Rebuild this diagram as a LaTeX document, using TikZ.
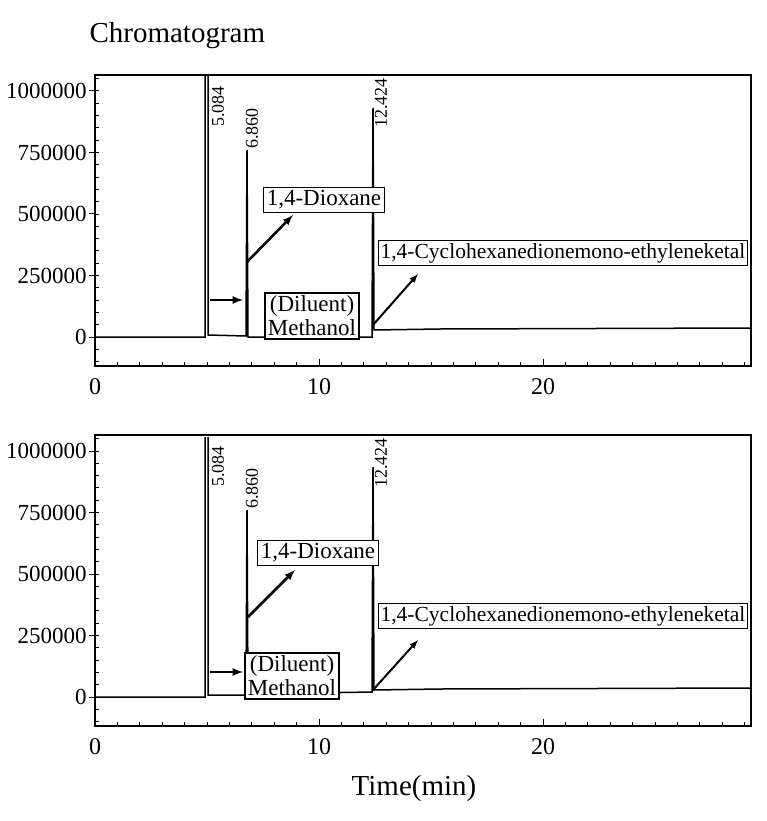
\documentclass[tikz,border=0pt]{standalone}
\usepackage{fontspec}
\setmainfont{Liberation Serif}
\usetikzlibrary{positioning}
\tikzset{
  box/.style={draw, line width=1.2pt, fill=white, inner sep=3pt, font=\fontsize{23}{23}\selectfont, align=center},
  lbl/.style={rotate=90, anchor=east, inner sep=1pt, font=\fontsize{18}{18}\selectfont},
  arr/.style={-latex, line width=2.5pt},
}
% one frame with ticks, #1 = y of the zero line
\newcommand\chromframe[1]{
  \draw[line width=1.2pt] (95,#1-262) rectangle (751,#1+29);
  \foreach \t in {1,...,29}
    \draw[line width=1pt] (95+22.4*\t,#1+29) -- ++(0,-4);
  \foreach \t in {0,10,20}
    \draw[line width=1pt] (95+22.4*\t,#1+29) -- ++(0,-7) (95+22.4*\t,#1+50) node {\fontsize{24}{24}\selectfont\t};
  \foreach \v in {-2,...,21}
    \draw[line width=1pt] (95,#1-12.3*\v) -- ++(4,0);
  \foreach \v/\txt in {0/0,250/250000,500/500000,750/750000,1000/1000000}
    \draw[line width=1pt] (95,#1-0.246*\v) -- ++(-6,0) node[left, inner sep=2pt] {\fontsize{23}{23}\selectfont\txt};
}
\begin{document}
\begin{tikzpicture}[x=1pt, y=-1pt]
  \useasboundingbox (0,0) rectangle (766,821);
  \node[anchor=west, font=\fontsize{29}{29}\selectfont] (title) at (86,36) {Chromatogram};

  % top chromatogram
  \chromframe{337}
  \draw[line width=1.5pt] (95,337) -- (205,337) -- (205,75) (208,75) -- (208,335) -- (246,336)
    -- (247,150) -- (248,337) -- (372,337) -- (373,108) -- (374,330) -- (440,329) -- (751,328);
  \node[lbl] (p1a) at (218,85) {5.084};
  \node[lbl] (p2a) at (252,107) {6.860};
  \node[lbl] (p3a) at (381,77) {12.424};
  \node[box] (dioxa) at (324,200) {1,4-Dioxane};
  \node[box] (metha) at (312,316) {(Diluent)\\[1pt]Methanol};
  \node[box, anchor=west, inner xsep=2pt, font=\fontsize{21.5}{22}\selectfont] (cycla) at (378,253) {1,4-Cyclohexanedionemono-ethyleneketal};
  \coordinate (sda) at (247,262);
  \coordinate (sma) at (210,300);
  \coordinate (sca) at (373,325);
  \draw[arr] (sda) -- (293,215);
  \draw[arr] (sma) -- (243,300);
  \draw[arr, line width=2pt] (sca) -- (418,274);

  % bottom chromatogram
  \chromframe{697}
  \draw[line width=1.5pt] (95,697) -- (205,697) -- (205,437) (208,437) -- (208,695) -- (246,695)
    -- (247,510) -- (248,694) -- (372,692) -- (373,467) -- (374,690) -- (440,689) -- (751,688);
  \node[lbl] (p1b) at (218,445) {5.084};
  \node[lbl] (p2b) at (252,467) {6.860};
  \node[lbl] (p3b) at (381,437) {12.424};
  \node[box] (dioxb) at (318,553) {1,4-Dioxane};
  \node[box] (methb) at (292,676) {(Diluent)\\[1pt]Methanol};
  \node[box, anchor=west, inner xsep=2pt, font=\fontsize{21.5}{22}\selectfont] (cyclb) at (378,616) {1,4-Cyclohexanedionemono-ethyleneketal};
  \coordinate (sdb) at (248,617);
  \coordinate (smb) at (210,672);
  \coordinate (scb) at (373,690);
  \draw[arr] (sdb) -- (295,570);
  \draw[arr] (smb) -- (243,672);
  \draw[arr, line width=2pt] (scb) -- (418,640);

  \node[font=\fontsize{29}{29}\selectfont] (xlab) at (414,789) {Time(min)};
\end{tikzpicture}
\end{document}
